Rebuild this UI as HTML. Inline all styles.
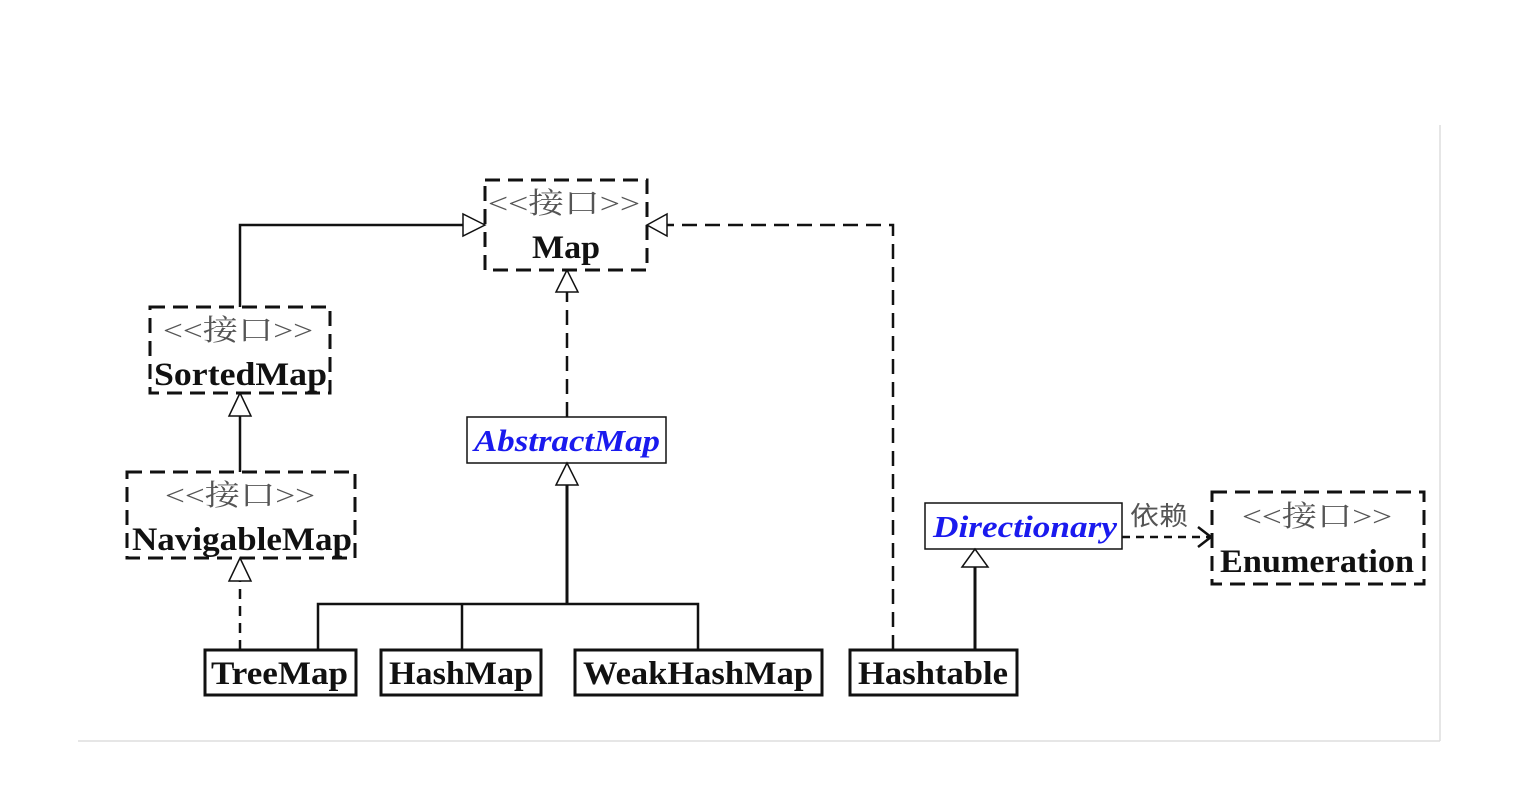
<!DOCTYPE html>
<html><head><meta charset="utf-8"><style>body{margin:0;background:#fff}svg{display:block}</style></head>
<body>
<svg width="1527" height="791" viewBox="0 0 1527 791" xmlns="http://www.w3.org/2000/svg">
<line x1="78" y1="741" x2="1440" y2="741" stroke="#ddd" stroke-width="1.5"/>
<line x1="1440" y1="125" x2="1440" y2="741" stroke="#ddd" stroke-width="1.5"/>
<g fill="none" stroke="#111" stroke-width="3">
<rect x="485" y="180" width="162" height="90" stroke-dasharray="15,8"/>
<rect x="150" y="307" width="180" height="86" stroke-dasharray="15,8"/>
<rect x="127" y="472" width="228" height="86" stroke-dasharray="15,8"/>
<rect x="1212" y="492" width="212" height="92" stroke-dasharray="15,8"/>
<rect x="467" y="417" width="199" height="46" stroke-width="1.5"/>
<rect x="925" y="503" width="197" height="46" stroke-width="1.5"/>
<rect x="205" y="650" width="151" height="45"/>
<rect x="381" y="650" width="160" height="45"/>
<rect x="575" y="650" width="247" height="45"/>
<rect x="850" y="650" width="167" height="45"/>
<polyline points="240,307 240,225 463,225" stroke-width="2.5"/>
<polyline points="893,650 893,225 667,225" stroke-dasharray="15,8" stroke-width="2.5"/>
<line x1="567" y1="417" x2="567" y2="292" stroke-dasharray="15,8" stroke-width="2.5"/>
<polyline points="318,650 318,604 698,604 698,650" stroke-width="2.5"/>
<line x1="462" y1="604" x2="462" y2="650" stroke-width="2.5"/>
<line x1="567" y1="604" x2="567" y2="485"/>
<line x1="240" y1="472" x2="240" y2="416" stroke-width="2.5"/>
<line x1="240" y1="650" x2="240" y2="581" stroke-dasharray="10,7" stroke-width="2.5"/>
<line x1="975" y1="650" x2="975" y2="567"/>
<line x1="1122" y1="537" x2="1210" y2="537" stroke-dasharray="8,6" stroke-width="2.5"/>
<polyline points="1198,527 1211,537 1198,547" stroke-width="2.5"/>
</g>
<g fill="#fff" stroke="#111" stroke-width="1.5">
<polygon points="485,225 463,214 463,236"/>
<polygon points="647,225 667,214 667,236"/>
<polygon points="567,270 556,292 578,292"/>
<polygon points="567,463 556,485 578,485"/>
<polygon points="240,393 229,416 251,416"/>
<polygon points="240,558 229,581 251,581"/>
<polygon points="975,549 962,567 988,567"/>
</g>
<g font-family="Liberation Serif, Noto Serif CJK SC, serif" lengthAdjust="spacingAndGlyphs">
<g fill="#555" font-size="29">
<text x="488" y="213" textLength="152" lengthAdjust="spacingAndGlyphs">&lt;&lt;接口&gt;&gt;</text>
<text x="163" y="340" textLength="150" lengthAdjust="spacingAndGlyphs">&lt;&lt;接口&gt;&gt;</text>
<text x="165" y="505" textLength="150" lengthAdjust="spacingAndGlyphs">&lt;&lt;接口&gt;&gt;</text>
<text x="1242" y="526" textLength="150" lengthAdjust="spacingAndGlyphs">&lt;&lt;接口&gt;&gt;</text>
<text x="1130" y="525" font-size="26" textLength="58" lengthAdjust="spacingAndGlyphs" font-family="Noto Sans CJK SC, sans-serif">依赖</text>
</g>
<g fill="#111" font-weight="bold" font-size="33">
<text x="532" y="258" textLength="68" lengthAdjust="spacingAndGlyphs">Map</text>
<text x="154" y="385" textLength="173" lengthAdjust="spacingAndGlyphs">SortedMap</text>
<text x="132" y="550" textLength="220" lengthAdjust="spacingAndGlyphs">NavigableMap</text>
<text x="1220" y="572" textLength="194" lengthAdjust="spacingAndGlyphs">Enumeration</text>
<text x="211" y="684" textLength="137" lengthAdjust="spacingAndGlyphs">TreeMap</text>
<text x="389" y="684" textLength="144" lengthAdjust="spacingAndGlyphs">HashMap</text>
<text x="583" y="684" textLength="230" lengthAdjust="spacingAndGlyphs">WeakHashMap</text>
<text x="858" y="684" textLength="150" lengthAdjust="spacingAndGlyphs">Hashtable</text>
</g>
<g fill="#1a1aee" font-weight="bold" font-style="italic" font-size="31">
<text x="474" y="451" textLength="186" lengthAdjust="spacingAndGlyphs">AbstractMap</text>
<text x="933" y="537" textLength="184" lengthAdjust="spacingAndGlyphs">Directionary</text>
</g>
</g>
</svg>
</body></html>
